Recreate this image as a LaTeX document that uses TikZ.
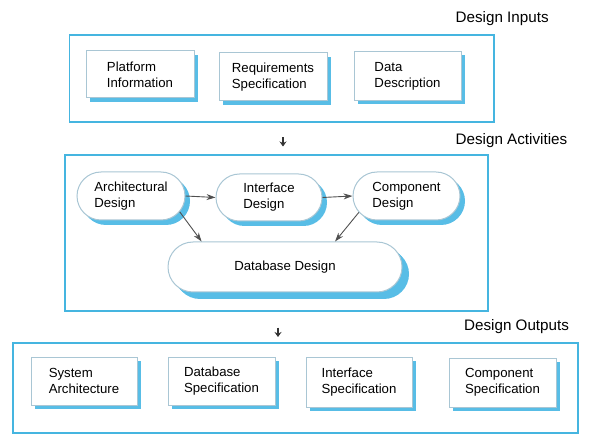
\documentclass[tikz,border=0pt]{standalone}
\usepackage{fontspec}
\setmainfont{Liberation Sans}
\usetikzlibrary{shapes.misc,shadows,arrows.meta,calc}
\definecolor{outerc}{HTML}{45B5E0}
\definecolor{edgec}{HTML}{A9C6D4}
\definecolor{shadc}{HTML}{58BDE6}
\definecolor{arrc}{HTML}{505050}
\tikzset{
  outerbox/.style={draw=outerc, line width=1.6pt},
  inbox/.style={draw=edgec, line width=1pt, fill=white, rectangle,
    inner sep=0pt, align=left,
    font=\fontsize{13.2}{16}\selectfont,
    drop shadow={shadow xshift=4pt, shadow yshift=-4pt, fill=shadc, opacity=1}},
  pill/.style={draw=edgec, line width=1pt, fill=white, rounded rectangle,
    inner sep=0pt, align=left,
    font=\fontsize{13.2}{16}\selectfont,
    drop shadow={shadow xshift=5pt, shadow yshift=-5pt, fill=shadc, opacity=1}},
  heading/.style={anchor=west, inner sep=0pt, font=\fontsize{15.2}{18}\selectfont},
  flow/.style={draw=arrc, line width=0.9pt, -{Stealth[length=9pt,width=6pt]}},
  stagemark/.style={draw=black!80, line width=2.4pt, -{Stealth[length=5pt,width=7pt]}}
}
\begin{document}
\begin{tikzpicture}[x=1pt,y=-1pt]
\useasboundingbox (0,0) rectangle (591,443);
% headings
\node[heading] (hin) at (455.5,18.6) {Design Inputs};
\node[heading] (hact) at (455.5,140.5) {Design Activities};
\node[heading] (hout) at (464,327) {Design Outputs};
% outer boxes
\draw[outerbox] (69.5,35) rectangle (494,122);
\draw[outerbox] (65,155) rectangle (488,311);
\draw[outerbox] (13,343) rectangle (578,433);
% inputs
\node[inbox, minimum width=108pt, minimum height=47pt] (plat) at (140,74.5) {Platform\\Information};
\node[inbox, minimum width=108pt, minimum height=48pt] (req) at (273,77) {Requirements\\Specification};
\node[inbox, minimum width=107pt, minimum height=49pt] (data) at (407.5,76) {Data\\Description};
% activities
\node[pill, minimum width=108pt, minimum height=48pt] (arch) at (131,196) {Architectural\\Design};
\node[pill, minimum width=106pt, minimum height=47pt] (iface) at (269,197.5) {Interface\\Design};
\node[pill, minimum width=107pt, minimum height=48pt] (comp) at (406.5,196) {Component\\Design};
\node[pill, minimum width=234pt, minimum height=50pt,
  drop shadow={shadow xshift=7pt, shadow yshift=-7pt, fill=shadc, opacity=1}] (db) at (285,267) {Database Design};
\draw[flow] (arch.east) -- (iface.west);
\draw[flow] (iface.east) -- (comp.west);
\draw[flow] (arch.-18) -- (db.163.6);
\draw[flow] (comp.199) -- (db.27);
% outputs
\node[inbox, minimum width=106pt, minimum height=48pt] (sysarch) at (84,381) {System\\Architecture};
\node[inbox, minimum width=107pt, minimum height=48pt] (dbspec) at (221.5,381) {Database\\Specification};
\node[inbox, minimum width=106pt, minimum height=50pt] (ifspec) at (359,382) {Interface\\Specification};
\node[inbox, minimum width=107pt, minimum height=49pt] (compspec) at (502.5,382.5) {Component\\Specification};
% small marks between stages
\coordinate (m1a) at (283,137.5);
\coordinate (m1b) at (283,146.5);
\coordinate (m2a) at (278,327.5);
\coordinate (m2b) at (278,337);
\draw[stagemark] (m1a) -- (m1b);
\draw[stagemark] (m2a) -- (m2b);
\end{tikzpicture}
\end{document}
